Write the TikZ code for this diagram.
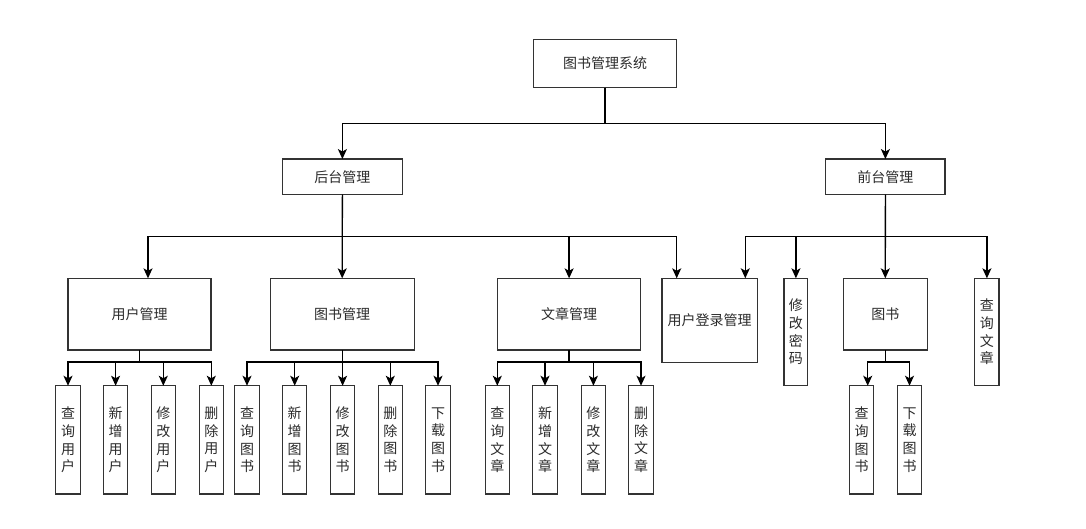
\documentclass[tikz,border=0pt]{standalone}
\usepackage{fontspec}
\newfontfamily\cjk{Noto Sans CJK SC}
\usetikzlibrary{arrows.meta}
\definecolor{boxline}{HTML}{333333}
\definecolor{txt}{HTML}{2B2B2B}
\tikzset{
  box/.style={draw=boxline, line width=1.2pt, rectangle, inner sep=0pt, outer sep=0pt,
    align=center, text=txt, font=\cjk\fontsize{14}{17.7}\selectfont},
  bw/.style 2 args={box, minimum width=#1pt, minimum height=#2pt},
  leaf/.style={box, minimum width=24.3pt, minimum height=108.3pt},
  conn/.style={line width=1.3pt, black},
  arr/.style={conn, -{Stealth[length=10pt,width=9pt,inset=2.5pt]}}
}
\begin{document}
\begin{tikzpicture}[x=1pt,y=-1pt]
\useasboundingbox (0,0) rectangle (1086,529);
\fill[white] (0,0) rectangle (1086,529);

% bus levels
\coordinate (b0) at (0,123.3);
\coordinate (b1) at (0,236.7);
\coordinate (b2) at (0,362);

% row 0 / 1
\node[bw={143.4}{48.4}] (top) at (605,63.5) {图书管理系统};
\node[bw={119.6}{35.7}] (hou) at (342.4,176.9) {后台管理};
\node[bw={119.3}{35.7}] (qian) at (885.4,176.9) {前台管理};

% row 2
\node[bw={143}{71.7}] (yh) at (139.5,314.2) {用户管理};
\node[bw={144}{71.7}] (ts) at (342.2,314.2) {图书管理};
\node[bw={143.2}{71.7}] (wz) at (569.1,314.2) {文章管理};
\node[bw={95.3}{84}] (dl) at (709.7,320.3) {用户登录管理};
\node[bw={23.7}{107.4}] (mm) at (795.9,332) {修\\改\\密\\码};
\node[bw={84}{71.7}] (tsq) at (885.3,314.2) {图书};
\node[bw={24.3}{107.4}] (cw) at (986.9,332) {查\\询\\文\\章};

% row 3 leaves
\node[leaf] (u1) at (68,439.9) {查\\询\\用\\户};
\node[leaf] (u2) at (115.6,439.9) {新\\增\\用\\户};
\node[leaf] (u3) at (163.3,439.9) {修\\改\\用\\户};
\node[leaf] (u4) at (211.3,439.9) {删\\除\\用\\户};

\node[leaf] (t1) at (247,439.9) {查\\询\\图\\书};
\node[leaf] (t2) at (294.7,439.9) {新\\增\\图\\书};
\node[leaf] (t3) at (342.6,439.9) {修\\改\\图\\书};
\node[leaf] (t4) at (390.3,439.9) {删\\除\\图\\书};
\node[leaf] (t5) at (438,439.9) {下\\载\\图\\书};

\node[leaf] (w1) at (497.3,439.9) {查\\询\\文\\章};
\node[leaf] (w2) at (545,439.9) {新\\增\\文\\章};
\node[leaf] (w3) at (593.4,439.9) {修\\改\\文\\章};
\node[leaf] (w4) at (641,439.9) {删\\除\\文\\章};

\node[leaf] (f1) at (861.5,439.9) {查\\询\\图\\书};
\node[leaf] (f2) at (909.5,439.9) {下\\载\\图\\书};

% level 0 -> 1
\draw[arr] (top.south) -- (top.south |- b0) -| (hou.north);
\draw[arr] (top.south) -- (top.south |- b0) -| (qian.north);

% 后台管理 -> children
\draw[arr] (hou.south) -- (hou.south |- b1) -| ([xshift=8.5pt]yh.north);
\draw[arr] (hou.south) -- (ts.north);
\draw[arr] (hou.south) -- (hou.south |- b1) -| (wz.north);
\draw[arr] (hou.south) -- (hou.south |- b1) -| ([xshift=-33pt]dl.north);

% 前台管理 -> children
\draw[arr] (qian.south) -- (qian.south |- b1) -| ([xshift=35.6pt]dl.north);
\draw[arr] (qian.south) -- (qian.south |- b1) -| (mm.north);
\draw[arr] (qian.south) -- (tsq.north);
\draw[arr] (qian.south) -- (qian.south |- b1) -| (cw.north);

% 用户管理 -> leaves
\foreach \c in {u1,u2,u3,u4}
  \draw[arr] (yh.south) -- (yh.south |- b2) -| (\c.north);
% 图书管理 -> leaves
\foreach \c in {t1,t2,t3,t4,t5}
  \draw[arr] (ts.south) -- (ts.south |- b2) -| (\c.north);
% 文章管理 -> leaves
\foreach \c in {w1,w2,w3,w4}
  \draw[arr] (wz.south) -- (wz.south |- b2) -| (\c.north);
% 图书 -> leaves
\draw[arr] (tsq.south) -- (tsq.south |- b2) -| ([xshift=6.2pt]f1.north);
\draw[arr] (tsq.south) -- (tsq.south |- b2) -| (f2.north);
\end{tikzpicture}
\end{document}
